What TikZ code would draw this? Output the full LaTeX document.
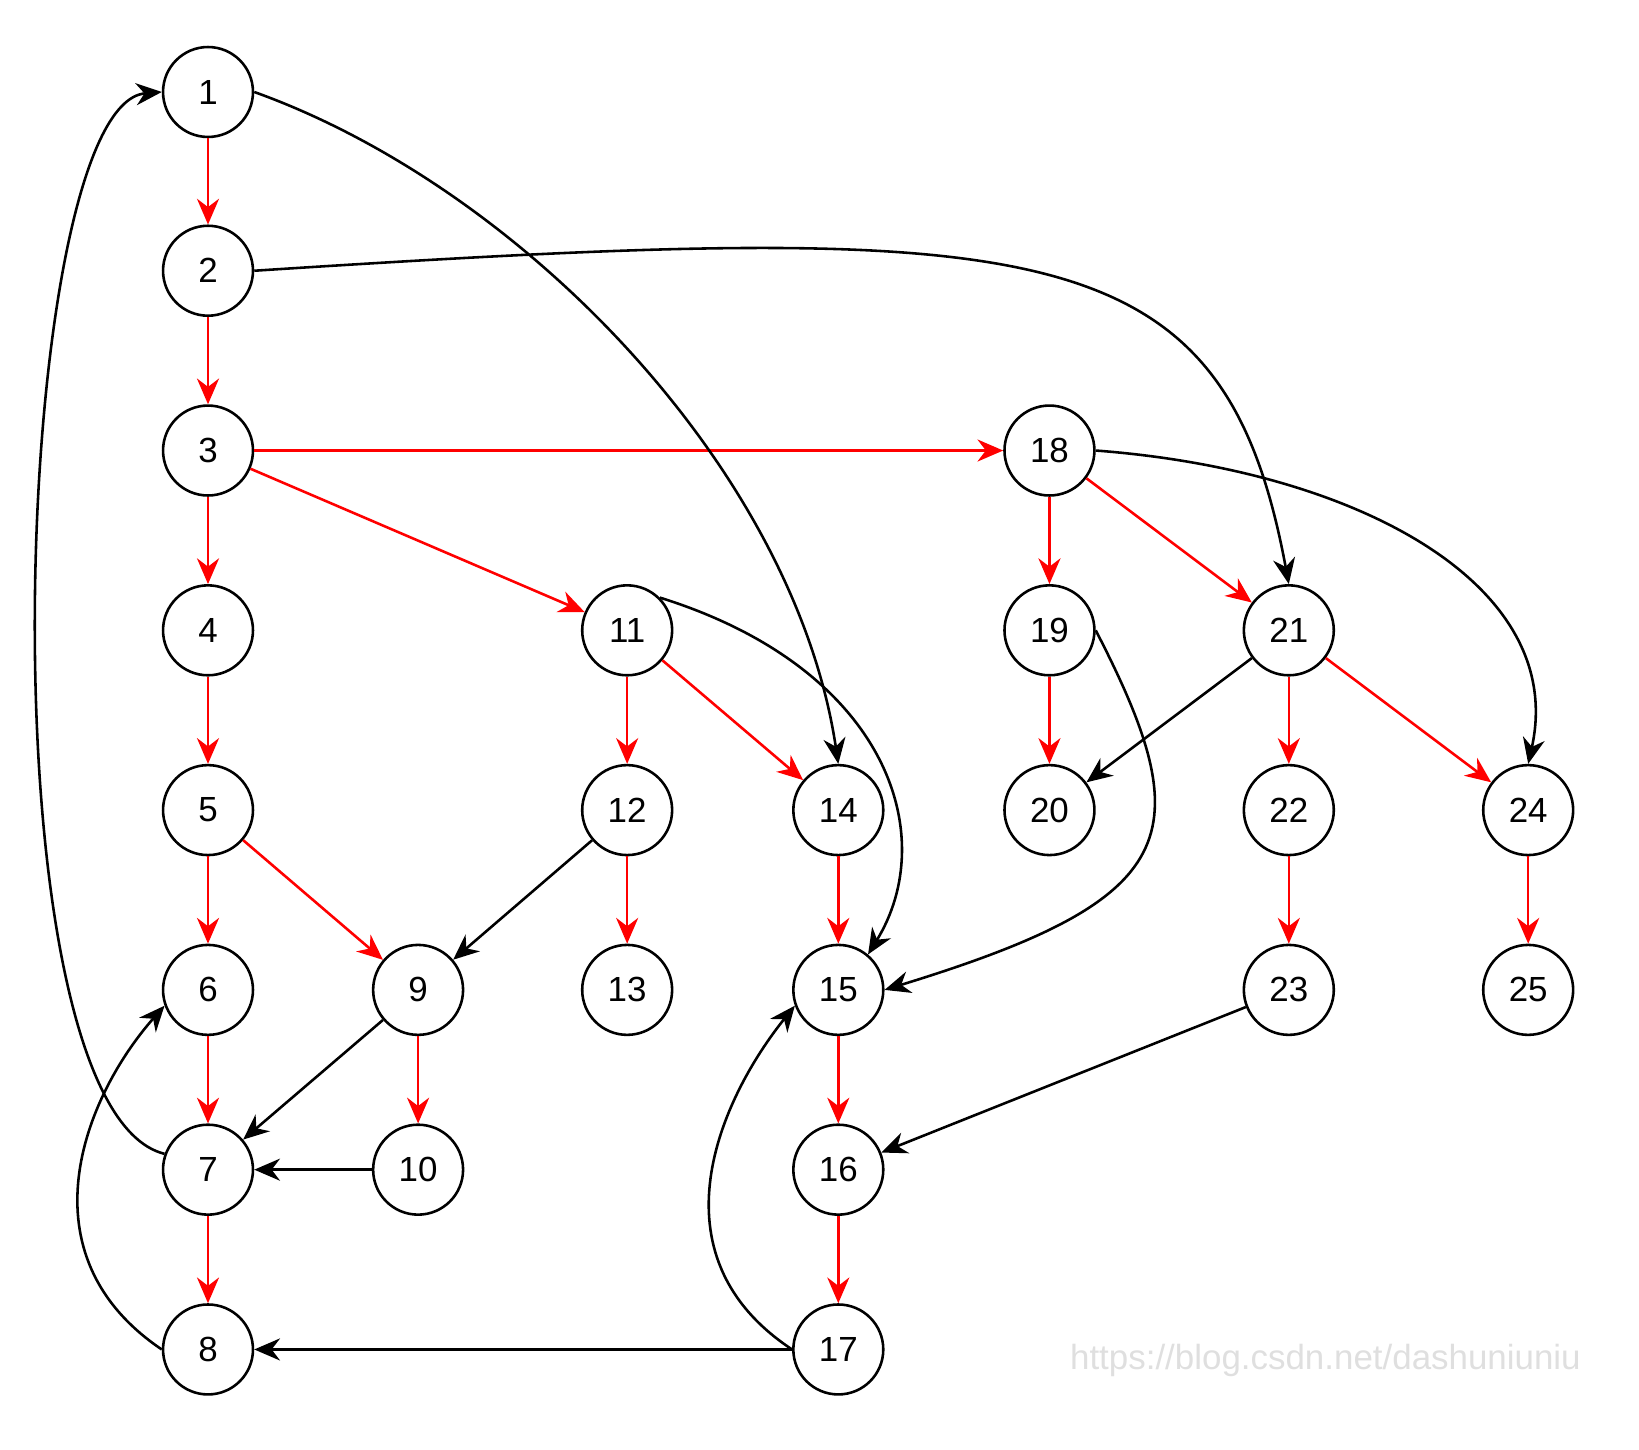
\documentclass[tikz,border=0pt]{standalone}
\usepackage{fontspec}
\setmainfont{Liberation Sans}
\usetikzlibrary{arrows.meta}
\begin{document}
\begin{tikzpicture}[x=0.01cm,y=-0.01cm,
  v/.style={circle,draw,line width=0.7pt,minimum size=0.86cm,inner sep=0pt,font=\fontsize{9.5}{11}\selectfont},
  re/.style={draw=red,line width=0.7pt,-{Stealth[length=7pt,width=6pt]}},
  be/.style={draw=black,line width=0.7pt,-{Stealth[length=7pt,width=6pt]}}]
\useasboundingbox (0,0) rectangle (1568,1387);
\foreach \n/\x/\y in {1/199/88,2/199/259,3/199/431,4/199/603,5/199/775,6/199/947,7/199/1119,8/199/1291,
 9/400/947,10/400/1119,11/600/603,12/600/775,13/600/947,14/802/775,15/802/947,16/802/1119,17/802/1291,
 18/1004/431,19/1004/603,20/1004/775,21/1233/603,22/1233/775,23/1233/947,24/1462/775,25/1462/947}
  \node[v] (n\n) at (\x,\y) {\n};
\foreach \a/\b in {1/2,2/3,3/4,3/18,3/11,4/5,5/6,5/9,6/7,7/8,9/10,11/12,11/14,12/13,14/15,15/16,16/17,18/19,18/21,19/20,21/22,21/24,22/23,24/25}
  \draw[re] (n\a) -- (n\b);
\foreach \a/\b in {21/20,12/9,9/7,10/7,23/16,17/8}
  \draw[be] (n\a) -- (n\b);
\draw[be] (n7.160) .. controls (-20,1060) and (10,100) .. (n1.west);
\draw[be] (n1.east) .. controls (500,180) and (760,450) .. (n14.north);
\draw[be] (n2.east) .. controls (1000,210) and (1170,220) .. (n21.north);
\draw[be] (n18.east) .. controls (1300,450) and (1500,560) .. (n24.north);
\draw[be] (n11.45) .. controls (850,640) and (900,800) .. (n15.50);
\draw[be] (n19.east) .. controls (1150,800) and (1130,860) .. (n15.east);
\draw[be] (n17.west) .. controls (620,1200) and (690,1050) .. (n15.200);
\draw[be] (n8.west) .. controls (20,1200) and (80,1050) .. (n6.200);
\node[text=gray!25,font=\fontsize{9.5}{11}\selectfont] (wm) at (1268,1302) {https://blog.csdn.net/dashuniuniu};
\end{tikzpicture}
\end{document}
